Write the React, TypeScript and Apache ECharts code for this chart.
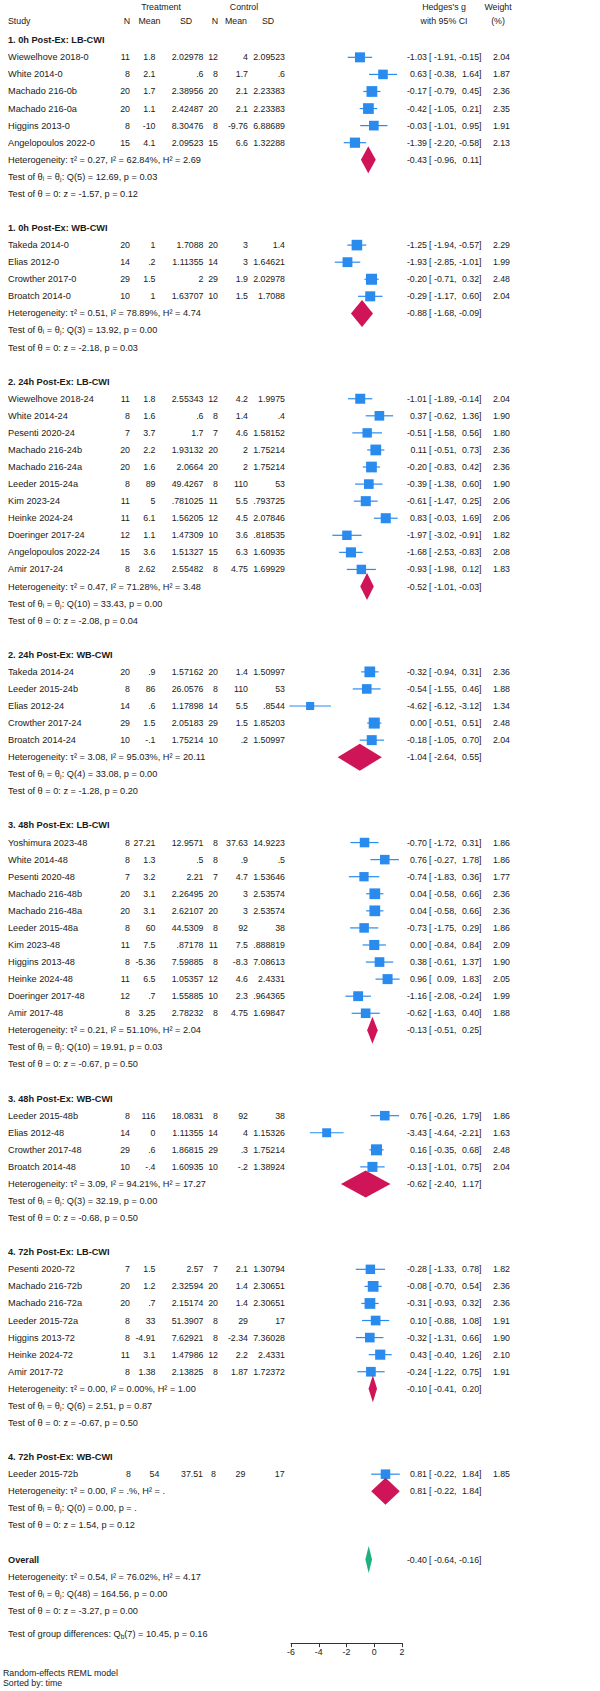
import React, { useEffect, useRef } from 'react';
import * as echarts from 'echarts';

// ---------------- DATA ----------------
const groupLabels = [
  '1. 0h Post-Ex: LB-CWI',
  '1. 0h Post-Ex: WB-CWI',
  '2. 24h Post-Ex: LB-CWI',
  '2. 24h Post-Ex: WB-CWI',
  '3. 48h Post-Ex: LB-CWI',
  '3. 48h Post-Ex: WB-CWI',
  '4. 72h Post-Ex: LB-CWI',
  '4. 72h Post-Ex: WB-CWI',
];
const groupSizes = [6, 4, 11, 5, 11, 4, 7, 1];

const studyNames = [
  'Wiewelhove 2018-0', 'White 2014-0', 'Machado 216-0b', 'Machado 216-0a', 'Higgins 2013-0', 'Angelopoulos 2022-0',
  'Takeda 2014-0', 'Elias 2012-0', 'Crowther 2017-0', 'Broatch 2014-0',
  'Wiewelhove 2018-24', 'White 2014-24', 'Pesenti 2020-24', 'Machado 216-24b', 'Machado 216-24a', 'Leeder 2015-24a', 'Kim 2023-24', 'Heinke 2024-24', 'Doeringer 2017-24', 'Angelopoulos 2022-24', 'Amir 2017-24',
  'Takeda 2014-24', 'Leeder 2015-24b', 'Elias 2012-24', 'Crowther 2017-24', 'Broatch 2014-24',
  'Yoshimura 2023-48', 'White 2014-48', 'Pesenti 2020-48', 'Machado 216-48b', 'Machado 216-48a', 'Leeder 2015-48a', 'Kim 2023-48', 'Higgins 2013-48', 'Heinke 2024-48', 'Doeringer 2017-48', 'Amir 2017-48',
  'Leeder 2015-48b', 'Elias 2012-48', 'Crowther 2017-48', 'Broatch 2014-48',
  'Pesenti 2020-72', 'Machado 216-72b', 'Machado 216-72a', 'Leeder 2015-72a', 'Higgins 2013-72', 'Heinke 2024-72', 'Amir 2017-72',
  'Leeder 2015-72b',
];
const treatN = [
  '11', '8', '20', '20', '8', '15',
  '20', '14', '29', '10',
  '11', '8', '7', '20', '20', '8', '11', '11', '12', '15', '8',
  '20', '8', '14', '29', '10',
  '8', '8', '7', '20', '20', '8', '11', '8', '11', '12', '8',
  '8', '14', '29', '10',
  '7', '20', '20', '8', '8', '11', '8',
  '8',
];
const treatMean = [
  '1.8', '2.1', '1.7', '1.1', '-10', '4.1',
  '1', '.2', '1.5', '1',
  '1.8', '1.6', '3.7', '2.2', '1.6', '89', '5', '6.1', '1.1', '3.6', '2.62',
  '.9', '86', '.6', '1.5', '-.1',
  '27.21', '1.3', '3.2', '3.1', '3.1', '60', '7.5', '-5.36', '6.5', '.7', '3.25',
  '116', '0', '.6', '-.4',
  '1.5', '1.2', '.7', '33', '-4.91', '3.1', '1.38',
  '54',
];
const treatSD = [
  '2.02978', '.6', '2.38956', '2.42487', '8.30476', '2.09523',
  '1.7088', '1.11355', '2', '1.63707',
  '2.55343', '.6', '1.7', '1.93132', '2.0664', '49.4267', '.781025', '1.56205', '1.47309', '1.51327', '2.55482',
  '1.57162', '26.0576', '1.17898', '2.05183', '1.75214',
  '12.9571', '.5', '2.21', '2.26495', '2.62107', '44.5309', '.87178', '7.59885', '1.05357', '1.55885', '2.78232',
  '18.0831', '1.11355', '1.86815', '1.60935',
  '2.57', '2.32594', '2.15174', '51.3907', '7.62921', '1.47986', '2.13825',
  '37.51',
];
const ctrlN = [
  '12', '8', '20', '20', '8', '15',
  '20', '14', '29', '10',
  '12', '8', '7', '20', '20', '8', '11', '12', '10', '15', '8',
  '20', '8', '14', '29', '10',
  '8', '8', '7', '20', '20', '8', '11', '8', '12', '10', '8',
  '8', '14', '29', '10',
  '7', '20', '20', '8', '8', '12', '8',
  '8',
];
const ctrlMean = [
  '4', '1.7', '2.1', '2.1', '-9.76', '6.6',
  '3', '3', '1.9', '1.5',
  '4.2', '1.4', '4.6', '2', '2', '110', '5.5', '4.5', '3.6', '6.3', '4.75',
  '1.4', '110', '5.5', '1.5', '.2',
  '37.63', '.9', '4.7', '3', '3', '92', '7.5', '-8.3', '4.6', '2.3', '4.75',
  '92', '4', '.3', '-.2',
  '2.1', '1.4', '1.4', '29', '-2.34', '2.2', '1.87',
  '29',
];
const ctrlSD = [
  '2.09523', '.6', '2.23383', '2.23383', '6.88689', '1.32288',
  '1.4', '1.64621', '2.02978', '1.7088',
  '1.9975', '.4', '1.58152', '1.75214', '1.75214', '53', '.793725', '2.07846', '.818535', '1.60935', '1.69929',
  '1.50997', '53', '.8544', '1.85203', '1.50997',
  '14.9223', '.5', '1.53646', '2.53574', '2.53574', '38', '.888819', '7.08613', '2.4331', '.964365', '1.69847',
  '38', '1.15326', '1.75214', '1.38924',
  '1.30794', '2.30651', '2.30651', '17', '7.36028', '2.4331', '1.72372',
  '17',
];
const hedgesG = [
  -1.03, 0.63, -0.17, -0.42, -0.03, -1.39,
  -1.25, -1.93, -0.2, -0.29,
  -1.01, 0.37, -0.51, 0.11, -0.2, -0.39, -0.61, 0.83, -1.97, -1.68, -0.93,
  -0.32, -0.54, -4.62, 0.0, -0.18,
  -0.7, 0.76, -0.74, 0.04, 0.04, -0.73, 0.0, 0.38, 0.96, -1.16, -0.62,
  0.76, -3.43, 0.16, -0.13,
  -0.28, -0.08, -0.31, 0.1, -0.32, 0.43, -0.24,
  0.81,
];
const ciLower = [
  -1.91, -0.38, -0.79, -1.05, -1.01, -2.2,
  -1.94, -2.85, -0.71, -1.17,
  -1.89, -0.62, -1.58, -0.51, -0.83, -1.38, -1.47, -0.03, -3.02, -2.53, -1.98,
  -0.94, -1.55, -6.12, -0.51, -1.05,
  -1.72, -0.27, -1.83, -0.58, -0.58, -1.75, -0.84, -0.61, 0.09, -2.08, -1.63,
  -0.26, -4.64, -0.35, -1.01,
  -1.33, -0.7, -0.93, -0.88, -1.31, -0.4, -1.22,
  -0.22,
];
const ciUpper = [
  -0.15, 1.64, 0.45, 0.21, 0.95, -0.58,
  -0.57, -1.01, 0.32, 0.6,
  -0.14, 1.36, 0.56, 0.73, 0.42, 0.6, 0.25, 1.69, -0.91, -0.83, 0.12,
  0.31, 0.46, -3.12, 0.51, 0.7,
  0.31, 1.78, 0.36, 0.66, 0.66, 0.29, 0.84, 1.37, 1.83, -0.24, 0.4,
  1.79, -2.21, 0.68, 0.75,
  0.78, 0.54, 0.32, 1.08, 0.66, 1.26, 0.75,
  1.84,
];
const weights = [
  2.04, 1.87, 2.36, 2.35, 1.91, 2.13,
  2.29, 1.99, 2.48, 2.04,
  2.04, 1.9, 1.8, 2.36, 2.36, 1.9, 2.06, 2.06, 1.82, 2.08, 1.83,
  2.36, 1.88, 1.34, 2.48, 2.04,
  1.86, 1.86, 1.77, 2.36, 2.36, 1.86, 2.09, 1.9, 2.05, 1.99, 1.88,
  1.86, 1.63, 2.48, 2.04,
  1.82, 2.36, 2.36, 1.91, 1.9, 2.1, 1.91,
  1.85,
];
const centeredStudies = ['Leeder 2015-72b'];

const groupG = [-0.43, -0.88, -0.52, -1.04, -0.13, -0.62, -0.1, 0.81];
const groupLower = [-0.96, -1.68, -1.01, -2.64, -0.51, -2.4, -0.41, -0.22];
const groupUpper = [0.11, -0.09, -0.03, 0.55, 0.25, 1.17, 0.2, 1.84];
const groupTau2 = ['0.27', '0.51', '0.47', '3.08', '0.21', '3.09', '0.00', '0.00'];
const groupI2 = ['62.84', '78.89', '71.28', '95.03', '51.10', '94.21', '0.00', '.'];
const groupH2 = ['2.69', '4.74', '3.48', '20.11', '2.04', '17.27', '1.00', '.'];
const groupQdf = ['5', '3', '10', '4', '10', '3', '6', '0'];
const groupQ = ['12.69', '13.92', '33.43', '33.08', '19.91', '32.19', '2.51', '0.00'];
const groupQp = ['0.03', '0.00', '0.00', '0.00', '0.03', '0.00', '0.87', '.'];
const groupZ = ['-1.57', '-2.18', '-2.08', '-1.28', '-0.67', '-0.68', '-0.67', '1.54'];
const groupZp = ['0.12', '0.03', '0.04', '0.20', '0.50', '0.50', '0.50', '0.12'];

const overallG = -0.4;
const overallLower = -0.64;
const overallUpper = -0.16;
const overallStats = { tau2: '0.54', i2: '76.02', h2: '4.17', qdf: '48', q: '164.56', qp: '0.00', z: '-3.27', zp: '0.00' };
const groupDiff = { df: '7', q: '10.45', p: '0.16' };

const xTicks = { min: -6, max: 2, interval: 2 };

// ---------------- LAYOUT / STYLE ----------------
const W = 600;
const H = 1691;
const ROW_H = 17.07;
const Y0 = 23.2;
const Y_MIN = -1;
const Y_MAX = 94.9;
const PLOT_LEFT = 291;
const PLOT_WIDTH = 111;
const SQ_K = 7;
const DIAMOND_HALF = 13.5;

const BLUE = '#2a8bef';
const CRIMSON = '#cf1457';
const GREEN = '#1fb07d';
const TEXT = '#1a1a1a';
const FONT = "'Liberation Sans', Arial, Helvetica, sans-serif";
const FS = 8.8; // numbers & headers
const FS_LABEL = 9.2; // study names and statistic lines

const COL = { study: 8, tN: 130, tMean: 155.5, tSD: 203.5, cN: 218, cMean: 248, cSD: 285, est: 427, brk: 429, lo: 456.5, hi: 481.5, wt: 510 };
const COLC = { tN: 128.5, tMean: 154.5, tSD: 192, cN: 213.5, cMean: 240.5, cSD: 279.7 };

type Align = 'left' | 'right' | 'center';
type Cell = { x: number; text: string; align: Align; bold?: boolean; rich?: boolean; label?: boolean };
type TRow = { row: number; cells: Cell[] };

const fmt = (v: number) => v.toFixed(2);
const estCells = (g: number, lo: number, hi: number): Cell[] => [
  { x: COL.est, text: fmt(g), align: 'right' },
  { x: COL.brk, text: '[', align: 'left' },
  { x: COL.lo, text: fmt(lo) + ',', align: 'right' },
  { x: COL.hi, text: fmt(hi) + ']', align: 'right' },
];

// Build table rows
const textRows: TRow[] = [];
const studyMarks: number[][] = [];
const diamondMarks: number[][] = [];

textRows.push({
  row: -0.95,
  cells: [
    { x: 161, text: 'Treatment', align: 'center' },
    { x: 244, text: 'Control', align: 'center' },
    { x: 444, text: "Hedges's g", align: 'center' },
    { x: 498, text: 'Weight', align: 'center' },
  ],
});
textRows.push({
  row: -0.13,
  cells: [
    { x: COL.study, text: 'Study', align: 'left' },
    { x: COL.tN, text: 'N', align: 'right' },
    { x: 149.5, text: 'Mean', align: 'center' },
    { x: 186, text: 'SD', align: 'center' },
    { x: 215, text: 'N', align: 'center' },
    { x: 236, text: 'Mean', align: 'center' },
    { x: 268, text: 'SD', align: 'center' },
    { x: 444, text: 'with 95% CI', align: 'center' },
    { x: 498, text: '(%)', align: 'center' },
  ],
});

let r = 1;
let si = 0;
groupLabels.forEach((label, gi) => {
  textRows.push({ row: r, cells: [{ x: COL.study, text: label, align: 'left', bold: true, label: true }] });
  r++;
  for (let k = 0; k < groupSizes[gi]; k++, si++, r++) {
    const centered = centeredStudies.includes(studyNames[si]);
    const cols = centered ? COLC : COL;
    const al: Align = centered ? 'center' : 'right';
    textRows.push({
      row: r,
      cells: [
        { x: COL.study, text: studyNames[si], align: 'left', label: true },
        { x: cols.tN, text: treatN[si], align: al },
        { x: cols.tMean, text: treatMean[si], align: al },
        { x: cols.tSD, text: treatSD[si], align: al },
        { x: cols.cN, text: ctrlN[si], align: al },
        { x: cols.cMean, text: ctrlMean[si], align: al },
        { x: cols.cSD, text: ctrlSD[si], align: al },
        ...estCells(hedgesG[si], ciLower[si], ciUpper[si]),
        { x: COL.wt, text: weights[si].toFixed(2), align: 'right' },
      ],
    });
    studyMarks.push([hedgesG[si], r, ciLower[si], ciUpper[si], weights[si]]);
  }
  textRows.push({
    row: r,
    cells: [
      { x: COL.study, text: `Heterogeneity: τ² = ${groupTau2[gi]}, I² = ${groupI2[gi]}%, H² = ${groupH2[gi]}`, align: 'left', label: true },
      ...estCells(groupG[gi], groupLower[gi], groupUpper[gi]),
    ],
  });
  diamondMarks.push([groupG[gi], r, groupLower[gi], groupUpper[gi], 0]);
  r++;
  textRows.push({ row: r, cells: [{ x: COL.study, text: `Test of θᵢ = θⱼ: Q(${groupQdf[gi]}) = ${groupQ[gi]}, p = ${groupQp[gi]}`, align: 'left', label: true }] });
  r++;
  textRows.push({ row: r, cells: [{ x: COL.study, text: `Test of θ = 0: z = ${groupZ[gi]}, p = ${groupZp[gi]}`, align: 'left', label: true }] });
  r++;
  r++; // blank
});

textRows.push({ row: r, cells: [{ x: COL.study, text: 'Overall', align: 'left', bold: true, label: true }, ...estCells(overallG, overallLower, overallUpper)] });
diamondMarks.push([overallG, r, overallLower, overallUpper, 1]);
r++;
textRows.push({ row: r, cells: [{ x: COL.study, text: `Heterogeneity: τ² = ${overallStats.tau2}, I² = ${overallStats.i2}%, H² = ${overallStats.h2}`, align: 'left', label: true }] });
r++;
textRows.push({ row: r, cells: [{ x: COL.study, text: `Test of θᵢ = θⱼ: Q(${overallStats.qdf}) = ${overallStats.q}, p = ${overallStats.qp}`, align: 'left', label: true }] });
r++;
textRows.push({ row: r, cells: [{ x: COL.study, text: `Test of θ = 0: z = ${overallStats.z}, p = ${overallStats.zp}`, align: 'left', label: true }] });
r++;
textRows.push({
  row: r + 0.38,
  cells: [{ x: COL.study, text: `Test of group differences: Q{sub|b}(${groupDiff.df}) = ${groupDiff.q}, p = ${groupDiff.p}`, align: 'left', rich: true, label: true }],
});

// ---------------- COMPONENT ----------------
export default function App() {
  const ref = useRef<HTMLDivElement>(null);

  useEffect(() => {
    if (!ref.current) return;
    const chart = echarts.init(ref.current, undefined, { renderer: 'svg' });
    const gridTop = Y0 + Y_MIN * ROW_H;
    const gridHeight = (Y_MAX - Y_MIN) * ROW_H;

    const option: any = {
      animation: false,
      backgroundColor: '#ffffff',
      grid: [
        { left: PLOT_LEFT, width: PLOT_WIDTH, top: gridTop, height: gridHeight, containLabel: false },
        { left: 0, width: W, top: gridTop, height: gridHeight, containLabel: false },
      ],
      xAxis: [
        {
          type: 'value',
          gridIndex: 0,
          min: xTicks.min,
          max: xTicks.max,
          interval: xTicks.interval,
          position: 'bottom',
          axisLine: { show: true, onZero: false, lineStyle: { color: '#333', width: 1 } },
          axisTick: { show: true, length: 4, lineStyle: { color: '#333', width: 1 } },
          axisLabel: { show: true, margin: 4, fontSize: FS, fontFamily: FONT, color: TEXT },
          splitLine: { show: false },
        },
        { type: 'value', gridIndex: 1, min: 0, max: W, show: false },
      ],
      yAxis: [
        { type: 'value', gridIndex: 0, min: Y_MIN, max: Y_MAX, inverse: true, show: false },
        { type: 'value', gridIndex: 1, min: Y_MIN, max: Y_MAX, inverse: true, show: false },
      ],
      series: [
        {
          type: 'custom',
          name: 'table',
          xAxisIndex: 1,
          yAxisIndex: 1,
          silent: true,
          data: textRows.map((t) => [0, t.row]),
          renderItem: (params: any, api: any) => {
            const t = textRows[params.dataIndex];
            const y = api.coord([0, t.row])[1];
            return {
              type: 'group',
              children: t.cells.map((c) => ({
                type: 'text',
                x: api.coord([c.x, t.row])[0],
                y,
                style: {
                  text: c.text,
                  fill: TEXT,
                  fontSize: c.label ? FS_LABEL : FS,
                  fontFamily: FONT,
                  fontWeight: c.bold ? 'bold' : 'normal',
                  align: c.align,
                  verticalAlign: 'middle',
                  rich: c.rich
                    ? { sub: { fontSize: 6.5, fontFamily: FONT, fill: TEXT, verticalAlign: 'bottom', padding: [4, 0, 0, 0] } }
                    : undefined,
                },
              })),
            };
          },
        },
        {
          type: 'custom',
          name: 'studies',
          xAxisIndex: 0,
          yAxisIndex: 0,
          silent: true,
          data: studyMarks,
          renderItem: (params: any, api: any) => {
            const row = api.value(1);
            const c = api.coord([api.value(0), row]);
            const l = api.coord([api.value(2), row]);
            const h = api.coord([api.value(3), row]);
            const s = SQ_K * Math.sqrt(api.value(4));
            return {
              type: 'group',
              children: [
                { type: 'line', shape: { x1: l[0], y1: l[1], x2: h[0], y2: h[1] }, style: { stroke: BLUE, lineWidth: 1.2 } },
                { type: 'rect', shape: { x: c[0] - s / 2, y: c[1] - s / 2, width: s, height: s }, style: { fill: BLUE } },
              ],
            };
          },
        },
        {
          type: 'custom',
          name: 'pooled',
          xAxisIndex: 0,
          yAxisIndex: 0,
          silent: true,
          data: diamondMarks,
          renderItem: (params: any, api: any) => {
            const row = api.value(1);
            const c = api.coord([api.value(0), row]);
            const l = api.coord([api.value(2), row]);
            const h = api.coord([api.value(3), row]);
            return {
              type: 'polygon',
              shape: {
                points: [
                  [l[0], c[1]],
                  [c[0], c[1] - DIAMOND_HALF],
                  [h[0], c[1]],
                  [c[0], c[1] + DIAMOND_HALF],
                ],
              },
              style: { fill: api.value(4) ? GREEN : CRIMSON },
            };
          },
        },
      ],
      graphic: [
        { type: 'text', left: 3, top: 1668, style: { text: 'Random-effects REML model', fill: TEXT, fontSize: FS, fontFamily: FONT } },
        { type: 'text', left: 3, top: 1678.5, style: { text: 'Sorted by: time', fill: TEXT, fontSize: FS, fontFamily: FONT } },
      ],
    };
    chart.setOption(option);
    return () => chart.dispose();
  }, []);

  return <div ref={ref} style={{ position: 'absolute', left: 0, top: 0, width: W, height: H }} />;
}
